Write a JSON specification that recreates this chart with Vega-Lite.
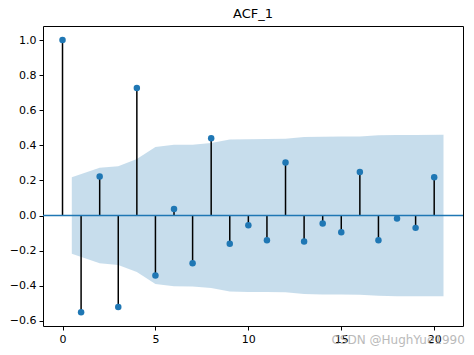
{
  "$schema": "https://vega.github.io/schema/vega-lite/v6.json",
  "width": 420,
  "height": 300,
  "autosize": {"type": "none"},
  "padding": {"left": 43, "top": 26, "right": 11, "bottom": 29},
  "title": {"text": "ACF_1", "font": "DejaVu Sans", "fontSize": 13, "fontWeight": "normal", "color": "#000", "offset": 5},
  "config": {
    "view": {"stroke": "#000", "strokeWidth": 1},
    "axis": {"grid": false, "domain": false, "tickColor": "#000", "tickSize": 4, "labelFont": "DejaVu Sans", "labelFontSize": 11, "labelColor": "#000", "title": null, "labelPadding": 3, "labelOverlap": false, "labelFlush": false}
  },
  "datasets": {
    "acf": [
      {"lag": 0, "acf": 1.0},
      {"lag": 1, "acf": -0.551},
      {"lag": 2, "acf": 0.223},
      {"lag": 3, "acf": -0.521},
      {"lag": 4, "acf": 0.727},
      {"lag": 5, "acf": -0.341},
      {"lag": 6, "acf": 0.038},
      {"lag": 7, "acf": -0.271},
      {"lag": 8, "acf": 0.441},
      {"lag": 9, "acf": -0.161},
      {"lag": 10, "acf": -0.055},
      {"lag": 11, "acf": -0.140},
      {"lag": 12, "acf": 0.303},
      {"lag": 13, "acf": -0.148},
      {"lag": 14, "acf": -0.045},
      {"lag": 15, "acf": -0.095},
      {"lag": 16, "acf": 0.248},
      {"lag": 17, "acf": -0.140},
      {"lag": 18, "acf": -0.017},
      {"lag": 19, "acf": -0.070},
      {"lag": 20, "acf": 0.218}
    ],
    "band": [
      {"lag": 0.5, "hi": 0.218, "lo": -0.218},
      {"lag": 2, "hi": 0.272, "lo": -0.272},
      {"lag": 3, "hi": 0.281, "lo": -0.281},
      {"lag": 4, "hi": 0.322, "lo": -0.322},
      {"lag": 5, "hi": 0.390, "lo": -0.390},
      {"lag": 6, "hi": 0.403, "lo": -0.403},
      {"lag": 7, "hi": 0.404, "lo": -0.404},
      {"lag": 8, "hi": 0.413, "lo": -0.413},
      {"lag": 9, "hi": 0.433, "lo": -0.433},
      {"lag": 10, "hi": 0.435, "lo": -0.435},
      {"lag": 11, "hi": 0.436, "lo": -0.436},
      {"lag": 12, "hi": 0.437, "lo": -0.437},
      {"lag": 13, "hi": 0.447, "lo": -0.447},
      {"lag": 14, "hi": 0.449, "lo": -0.449},
      {"lag": 15, "hi": 0.450, "lo": -0.450},
      {"lag": 16, "hi": 0.451, "lo": -0.451},
      {"lag": 17, "hi": 0.457, "lo": -0.457},
      {"lag": 18, "hi": 0.459, "lo": -0.459},
      {"lag": 19, "hi": 0.459, "lo": -0.459},
      {"lag": 20.5, "hi": 0.460, "lo": -0.460}
    ],
    "zero": [{"v": 0}],
    "wm": [{"x": 18.06, "y": -0.71, "t": "CSDN @HughYue1990"}]
  },
  "encoding": {
    "x": {"type": "quantitative", "scale": {"domain": [-1.05, 21.55], "nice": false, "zero": false}, "axis": {"values": [0, 5, 10, 15, 20], "format": "d"}},
    "y": {"type": "quantitative", "scale": {"domain": [-0.629, 1.08], "nice": false, "zero": false}, "axis": {"values": [-0.6, -0.4, -0.2, 0.0, 0.2, 0.4, 0.6, 0.8, 1.0], "format": ".1f", "tickCount": 9}}
  },
  "layer": [
    {
      "data": {"name": "band"},
      "mark": {"type": "area", "color": "#1f77b4", "opacity": 0.25, "interpolate": "linear"},
      "encoding": {
        "x": {"field": "lag", "type": "quantitative"},
        "y": {"field": "hi", "type": "quantitative"},
        "y2": {"field": "lo"}
      }
    },
    {
      "data": {"name": "acf"},
      "mark": {"type": "rule", "color": "#000", "strokeWidth": 1.5},
      "encoding": {
        "x": {"field": "lag", "type": "quantitative"},
        "y": {"field": "acf", "type": "quantitative"},
        "y2": {"datum": 0}
      }
    },
    {
      "data": {"name": "zero"},
      "mark": {"type": "rule", "color": "#1f77b4", "strokeWidth": 1.5},
      "encoding": {"y": {"field": "v", "type": "quantitative"}}
    },
    {
      "data": {"name": "acf"},
      "mark": {"type": "point", "filled": true, "color": "#1f77b4", "opacity": 1, "size": 42},
      "encoding": {
        "x": {"field": "lag", "type": "quantitative"},
        "y": {"field": "acf", "type": "quantitative"}
      }
    },
    {
      "data": {"name": "wm"},
      "mark": {"type": "text", "clip": false, "font": "DejaVu Sans", "fontSize": 12, "color": "#aaa", "opacity": 0.8, "align": "center", "baseline": "middle"},
      "encoding": {
        "x": {"field": "x", "type": "quantitative"},
        "y": {"field": "y", "type": "quantitative"},
        "text": {"field": "t"}
      }
    }
  ]
}
